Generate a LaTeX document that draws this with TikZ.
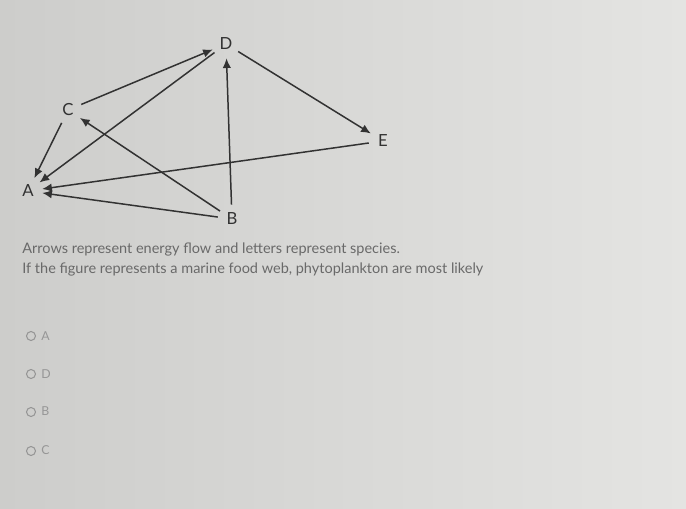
\documentclass[tikz,border=0pt]{standalone}
\usepackage{fontspec}
\setmainfont{Lato}
\usetikzlibrary{arrows.meta}
\definecolor{bgL}{RGB}{205,205,203}
\definecolor{bgR}{RGB}{228,228,226}
\definecolor{ink}{RGB}{50,50,50}
\definecolor{txt}{RGB}{105,105,105}
\definecolor{opt}{RGB}{150,150,150}
\tikzset{
  sp/.style={circle,inner sep=0pt,minimum size=0.56cm,text=ink,font=\fontsize{9.5}{11}\selectfont},
  flow/.style={draw=ink,line width=0.85pt,-{Latex[length=5.5pt,width=4.8pt]}},
  qtext/.style={anchor=west,inner sep=0pt,text=txt,font=\fontsize{8.25}{10}\selectfont},
  radio/.style={circle,draw=opt,line width=0.6pt,minimum size=0.18cm,inner sep=0pt},
  optlab/.style={anchor=west,inner sep=0pt,text=opt,font=\fontsize{7}{8}\selectfont}
}
\begin{document}
\begin{tikzpicture}[x=0.02cm,y=-0.02cm]
\shade[left color=bgL,right color=bgR] (0,0) rectangle (686,509);
\useasboundingbox (0,0) rectangle (686,509);
\node[sp] (D) at (226,44) {D};
\node[sp] (E) at (383,141) {E};
\node[sp] (C) at (68,110) {C};
\node[sp] (A) at (28,191) {A};
\node[sp] (B) at (232,219) {B};
\draw[flow] (C) -- (D);
\draw[flow] (D) -- (A);
\draw[flow] (C) -- (A);
\draw[flow] (B) -- (C);
\draw[flow] (B) -- (D);
\draw[flow] (E) -- (A);
\draw[flow] (B) -- (A);
\draw[flow] (D) -- (E);
\node[qtext] (q1) at (22,249) {Arrows represent energy flow and letters represent species.};
\node[qtext] (q2) at (22,269) {If the figure represents a marine food web, phytoplankton are most likely};
\node[radio] (r1) at (31,336) {};
\node[optlab] (o1) at (41,336) {A};
\node[radio] (r2) at (31,374) {};
\node[optlab] (o2) at (41,374) {D};
\node[radio] (r3) at (31,412) {};
\node[optlab] (o3) at (41,411) {B};
\node[radio] (r4) at (31,451) {};
\node[optlab] (o4) at (41,450) {C};
\end{tikzpicture}
\end{document}
